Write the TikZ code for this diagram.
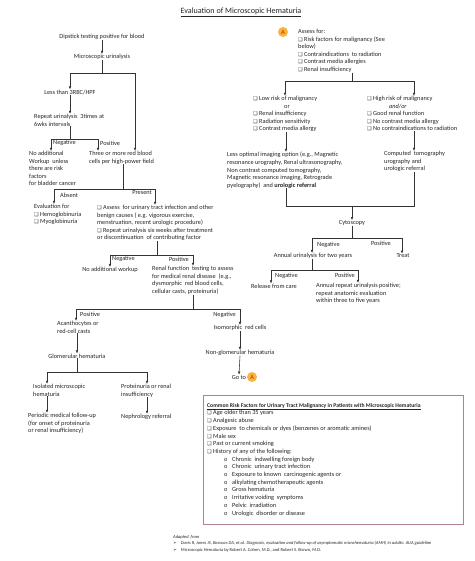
\documentclass[tikz,border=0pt]{standalone}
\usepackage{fontspec}
\setmainfont{Carlito}
\newfontfamily\dejavu{DejaVu Sans}
\usetikzlibrary{arrows.meta,calc}
\newcommand\fs{\fontsize{6.3}{7.6}\selectfont}
\newcommand\cb{{\dejavu\fontsize{5.1}{7.6}\selectfont\char"2751}\hspace{1.4pt}}
\newcommand\subi{\hspace*{17pt}\makebox[8pt][l]{o}}
\definecolor{badgefill}{RGB}{247,181,60}
\definecolor{badgetext}{RGB}{205,75,30}
\definecolor{boxline}{RGB}{175,130,145}
\begin{document}
\begin{tikzpicture}[x=1pt,y=-1pt,
  every node/.style={inner sep=0pt, text=black!85},
  tx/.style={font=\fs, align=left, anchor=north west},
  cx/.style={font=\fs, anchor=center},
  lw/.style={font=\fs, anchor=west},
  le/.style={font=\fs, anchor=east},
  ln/.style={draw=black!80, line width=0.55pt},
  arr/.style={ln, -{Latex[length=3.2pt,width=2.6pt]}},
  badge/.style={circle, minimum size=10pt, fill=badgefill, font=\fontsize{6.5}{6.5}\selectfont\bfseries, text=badgetext},
  boxln/.style={draw=boxline, line width=0.8pt}
]
\fill[white] (0,0) rectangle (474,561);
\useasboundingbox (0,0) rectangle (474,561);

% title
\node[font=\fontsize{8.1}{9}\selectfont] (title) at (241,12) {\underline{Evaluation of Microscopic Hematuria}};

% left column
\node[cx] (dip) at (102,37) {Dipstick testing positive for blood};
\node[cx] (mu) at (102,57) {Microscopic urinalysis};
\draw[arr] (dip.south) -- (mu.north);
\coordinate (b1) at (102,73);
\draw[ln] (mu.south) -- (b1);
\node[cx] (lt) at (70,92) {Less than 3RBC/HPF};
\draw[arr] (b1) -| (lt.north);
\node[tx] (rep) at (34,114) {Repeat urinalysis\ \ 3times at\\6wks intervals};
\draw[arr] (lt.south) -- (lt.south |- rep.north);
\node[tx] (noadd) at (29,151) {No additional\\Workup\ \ unless\\there are risk\\factors\\for bladder cancer};
\node[tx] (three) at (89,151) {Three or more red blood\\cells per high-power field};
\draw[arr] (b1) -| ([xshift=46pt]three.north west);
\coordinate (b2) at (70,139);
\draw[ln] (b2 |- rep.south) -- (b2);
\draw[arr] (b2) -| ([xshift=22pt]noadd.north west);
\draw[arr] (b2) -| ([xshift=9pt]three.north west);
\node[lw] (neg1) at (53,143) {Negative};
\node[lw] (pos1) at (100,143) {Positive};

\coordinate (b3) at (123,189);
\draw[ln] (b3 |- three.south) -- (b3);
\node[tx] (eval) at (34,204) {Evaluation for\\\cb Hemoglobinuria\\\cb Myoglobinuria};
\node[tx] (ass) at (97,205) {\cb Assess\ \ for urinary tract infection and other\\benign causes ( e.g. vigorous exercise,\\menstruation, recent urologic procedure)\\\cb Repeat urinalysis six weeks after treatment\\or discontinuation\ \ of contributing factor};
\draw[arr] (b3) -| ([xshift=20pt]eval.north west);
\draw[arr] (b3) -| ([xshift=58pt]ass.north west);
\node[lw] (abs) at (60,195) {Absent};
\node[le] (pres) at (152,193) {Present};

\coordinate (b4) at (157,255);
\draw[ln] (b4 |- ass.south) -- (b4);
\node[cx] (noaddw) at (110,270) {No additional workup};
\node[tx] (renal) at (152,266) {Renal function\ \ testing to assess\\for medical renal disease\ \ (e.g.,\\dysmorphic\ \ red blood cells,\\cellular casts, proteinuria)};
\draw[arr] (b4) -| (noaddw.north);
\draw[arr] (b4) -| ([xshift=41pt]renal.north west);
\node[lw] (neg2) at (112,259) {Negative};
\node[le] (pos2) at (189,259) {Positive};

\coordinate (b5) at (193,309);
\draw[ln] (b5 |- renal.south) -- (b5);
\node[tx] (acan) at (57,321) {Acanthocytes or\\red-cell casts};
\node[cx] (iso) at (240,328) {Isomorphic\ \ red cells};
\draw[arr] (b5) -| ([xshift=19pt]acan.north west);
\draw[arr] (b5) -| (iso.north);
\node[lw] (pos3) at (80,314) {Positive};
\node[le] (neg3) at (236,315) {Negative};

\node[cx] (glom) at (77,356) {Glomerular hematuria};
\draw[arr] (acan.south -| glom.north) -- (glom.north);
\coordinate (b6) at (77,372);
\draw[ln] (glom.south) -- (b6);
\node[tx] (isol) at (33,384) {Isolated microscopic\\hematuria};
\node[tx] (prot) at (121,384) {Proteinuria or renal\\insufficiency};
\draw[arr] (b6) -| ([xshift=14pt]isol.north west);
\draw[arr] (b6) -| ([xshift=26pt]prot.north west);
\node[tx] (peri) at (28,413) {Periodic medical follow-up\\(for onset of proteinuria\\or renal insufficiency)};
\node[tx] (neph) at (121,414) {Nephrology referral};
\draw[arr] ([xshift=14pt]isol.south west) -- ([xshift=19pt]peri.north west);
\draw[arr] ([xshift=26pt]prot.south west) -- ([xshift=26pt]neph.north west);

\node[cx] (nong) at (240,353) {Non-glomerular hematuria};
\draw[arr] (iso.south) -- (nong.north);
\node[cx] (goto) at (239,377) {Go to};
\node[badge] (a2) at (252,377) {A};
\draw[arr] (nong.south) -- (goto.north);

% right column
\node[badge] (a1) at (283,32) {A};
\node[tx] (assA) at (298,29) {Assess for:\\\cb Risk factors for malignancy (See\\below)\\\cb Contraindications\ \ to radiation\\\cb Contrast media allergies\\\cb Renal insufficiency};
\coordinate (b7) at (352,81);
\draw[ln] (b7 |- assA.south) -- (b7);
\node[tx] (low) at (253,96) {\cb Low risk of malignancy\\\hspace*{31pt}or\\\cb Renal insufficiency\\\cb Radiation sensitivity\\\cb Contrast media allergy};
\node[tx] (high) at (367,96) {\cb High risk of malignancy\\\hspace*{22pt}\textit{and/or}\\\cb Good renal function\\\cb No contrast media allergy\\\cb No contraindications to radiation};
\draw[arr] (b7) -| ([xshift=32pt]low.north west);
\draw[arr] (b7) -| ([xshift=47pt]high.north west);
\node[tx] (less) at (227,152) {Less optimal imaging option (e.g., Magnetic\\resonance urography, Renal ultrasonography,\\Non contrast computed tomography,\\Magnetic resonance imaging, Retrograde\\pyelography)\ \ and \textbf{urologic referral}};
\node[tx] (ct) at (384,151) {Computed\ \ tomography\\urography and\\urologic referral};
\draw[arr] ([xshift=33pt]low.south west) -- ([xshift=59pt]less.north west);
\draw[arr] ([xshift=47pt]high.south west) -- ([xshift=30pt]ct.north west);
\coordinate (m1) at (286,206);
\coordinate (m2) at (414,206);
\coordinate (m3) at (352,206);
\draw[ln] ([xshift=59pt]less.south west) -- (m1) -- (m2) -- ([xshift=30pt]ct.south west);
\node[cx] (cyto) at (352,223) {Cytoscopy};
\draw[arr] (m3) -- (cyto.north);

\coordinate (b8) at (352,238);
\draw[ln] (cyto.south) -- (b8);
\node[cx] (annual) at (313,256) {Annual urinalysis for two years};
\node[cx] (treat) at (403,256) {Treat};
\draw[arr] (b8) -| ([xshift=-1pt]annual.north);
\draw[arr] (b8) -| ([xshift=-1pt]treat.north);
\node[lw] (neg4) at (317,245) {Negative};
\node[le] (pos4) at (391,243) {Positive};

\coordinate (b9) at (312,270);
\draw[ln] (b9 |- annual.south) -- (b9);
\node[cx] (rel) at (274,286) {Release from care};
\node[tx] (arp) at (316,283) {Annual repeat urinalysis positive;\\repeat anatomic evaluation\\within three to five years};
\draw[arr] (b9) -| ([xshift=-3pt]rel.north);
\draw[arr] (b9) -| ([xshift=42pt]arp.north west);
\node[lw] (neg5) at (275,276) {Negative};
\node[le] (pos5) at (355,275) {Positive};

% risk factor box
\draw[boxln] (203,395) rectangle (463,524);
\node[tx, font=\fontsize{6.3}{7.7}\selectfont] (risk) at (207,403) {{\fontsize{5.7}{7.7}\selectfont\underline{\textbf{Common Risk Factors for Urinary Tract Malignancy in Patients with Microscopic Hematuria}}}\\
\cb Age older than 35 years\\
\cb Analgesic abuse\\
\cb Exposure\ \ to chemicals or dyes (benzenes or aromatic amines)\\
\cb Male sex\\
\cb Past or current smoking\\
\cb History of any of the following:\\
\subi Chronic\ \ indwelling foreign body\\
\subi Chronic\ \ urinary tract infection\\
\subi Exposure to known\ \ carcinogenic agents or\\
\subi alkylating chemotherapeutic agents\\
\subi Gross hematuria\\
\subi Irritative voiding\ \ symptoms\\
\subi Pelvic\ \ irradiation\\
\subi Urologic\ \ disorder or disease};

% footer
\node[tx, font=\fontsize{4.5}{6.6}\selectfont] (ref) at (173,535) {\textit{Adapted\ \ from}\\
{\dejavu\char"27A2}\hspace{4pt}\textit{Davis R, Jones JS, Barocas DA, et al. Diagnosis, evaluation and follow-up of asymptomatic microhematuria (AMH) in adults: AUA guideline}\\
{\dejavu\char"27A2}\hspace{4pt}Microscopic Hematuria by Robert A. Cohen, M.D., and Robert S. Brown, M.D.};
\end{tikzpicture}
\end{document}
